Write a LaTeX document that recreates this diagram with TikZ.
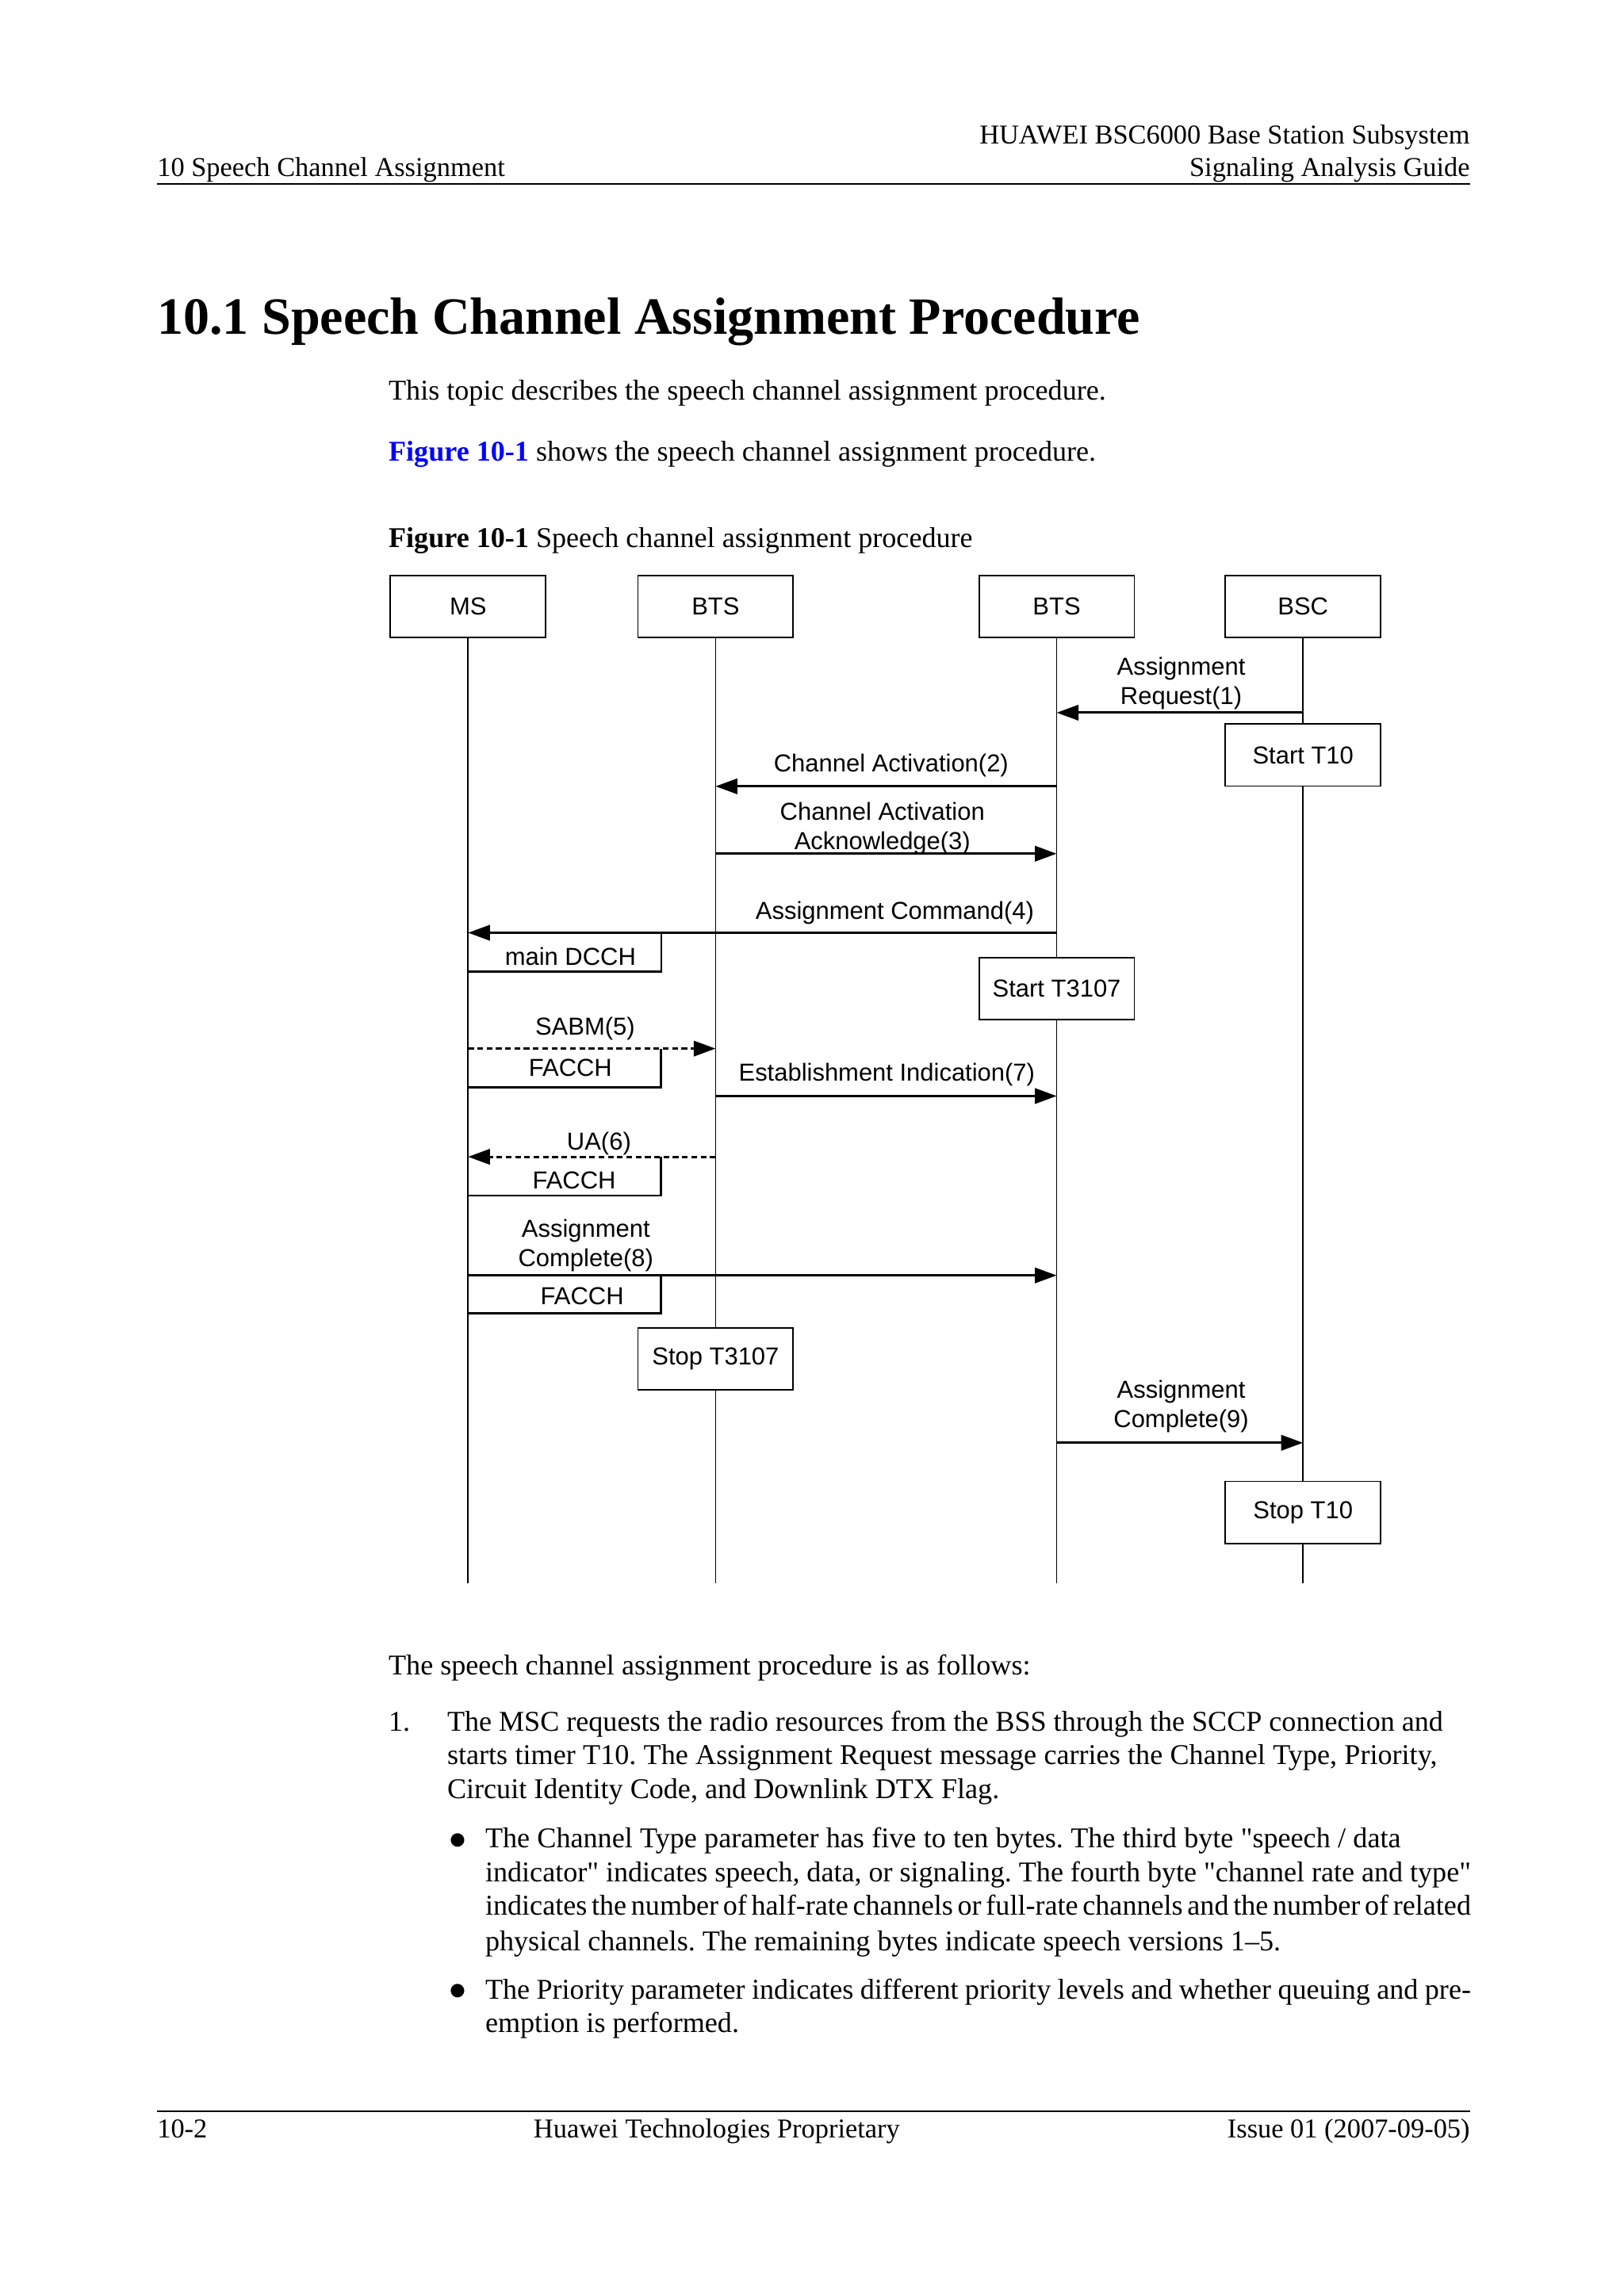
\documentclass[tikz,border=0pt]{standalone}
\usepackage{fontspec}
\setmainfont{Liberation Serif}[Ligatures=TeXOff]
\setsansfont{Liberation Sans}
\usetikzlibrary{arrows.meta}
\frenchspacing
\definecolor{linkblue}{RGB}{0,0,255}
\tikzstyle{entity}=[draw, line width=0.55pt, minimum width=56.9pt, minimum height=22.7pt, inner sep=0, font=\sffamily\fontsize{9}{10.8}\selectfont]
\tikzstyle{timer}=[entity, fill=white]
\tikzstyle{lifeline}=[line width=0.5pt]
\tikzstyle{message}=[line width=0.9pt, -{Triangle[length=8pt, width=5.6pt]}]
\tikzstyle{dotted message}=[message, dash pattern=on 2.1pt off 1.3pt]
\tikzstyle{channel}=[line width=0.8pt]
\tikzstyle{msg text}=[inner sep=0, align=center, font=\sffamily\fontsize{9}{10.8}\selectfont]
\tikzstyle{body}=[inner sep=0, anchor=base west, font=\fontsize{10.5}{12.6}\selectfont]
\tikzstyle{page text}=[inner sep=0, font=\fontsize{10}{12}\selectfont]

\begin{document}
\begin{tikzpicture}[x=0.5369pt, y=-0.5369pt]
  \fill[white] (0,0) rectangle (1108.8,1568);
  \begin{scope}[shift={(1,1)}]

  % header and footer of the page
  \node[page text, anchor=base east] (head_book) at (1003,97) {HUAWEI BSC6000 Base Station Subsystem};
  \node[page text, anchor=base west] (head_chapter) at (106,119.5) {10 Speech Channel Assignment};
  \node[page text, anchor=base east] (head_guide) at (1003,119.5) {Signaling Analysis Guide};
  \coordinate (head_left) at (106,124.5);
  \coordinate (head_right) at (1003,124.5);
  \draw[line width=0.6pt] (head_left) -- (head_right);
  \coordinate (foot_left) at (106,1441);
  \coordinate (foot_right) at (1003,1441);
  \draw[line width=0.6pt] (foot_left) -- (foot_right);
  \node[page text, anchor=base west] (foot_page) at (106,1459) {10-2};
  \node[page text, anchor=base west] (foot_owner) at (363,1459) {Huawei Technologies Proprietary};
  \node[page text, anchor=base east] (foot_issue) at (1003,1459) {Issue 01 (2007-09-05)};

  \node[inner sep=0, anchor=base west, font=\bfseries\fontsize{19.2}{22}\selectfont] (section) at (106,227)
    {10.1 Speech Channel Assignment Procedure};
  \node[body] (intro) at (264,272) {This topic describes the speech channel assignment procedure.};
  \node[body] (intro_ref) at (264,314) {\textcolor{linkblue}{\bfseries Figure 10-1} shows the speech channel assignment procedure.};
  \node[body] (caption) at (264,373) {\textbf{Figure 10-1} Speech channel assignment procedure};

  % entities and their lifelines
  \node[entity] (ms) at (318.6,413.2) {MS};
  \node[entity] (bts_a) at (487.6,413.2) {BTS};
  \node[entity] (bts_b) at (720.5,413.2) {BTS};
  \node[entity] (bsc) at (888.7,413.2) {BSC};
  \coordinate (bottom) at (0,1080);
  \foreach \n in {ms, bts_a, bts_b, bsc}
    \draw[lifeline] (\n.south) -- (\n |- bottom);

  % timers
  \node[timer] (start_t10) at (888.7,514.7) {Start T10};
  \node[timer] (start_t3107) at (720.5,674) {Start T3107};
  \node[timer] (stop_t3107) at (487.6,927) {Stop T3107};
  \node[timer] (stop_t10) at (888.7,1031.8) {Stop T10};

  % messages
  \coordinate (row_1) at (0,485.7);
  \coordinate (row_2) at (0,536);
  \coordinate (row_3) at (0,582);
  \coordinate (row_4) at (0,636);
  \coordinate (row_5) at (0,715.1);
  \coordinate (row_7) at (0,747.5);
  \coordinate (row_6) at (0,789);
  \coordinate (row_8) at (0,870);
  \coordinate (row_9) at (0,984.3);

  \draw[message] (bsc |- row_1) -- (bts_b |- row_1);
  \node[msg text] (req) at (805.5,465.7) {Assignment\\Request(1)};
  \draw[message] (bts_b |- row_2) -- (bts_a |- row_2);
  \node[msg text, anchor=base] (chan_act) at (607.5,526) {Channel Activation(2)};
  \draw[message] (bts_a |- row_3) -- (bts_b |- row_3);
  \node[msg text] (chan_ack) at (601.5,564.7) {Channel Activation\\Acknowledge(3)};
  \draw[message] (bts_b |- row_4) -- (ms |- row_4);
  \node[msg text, anchor=base] (cmd) at (610,627) {Assignment Command(4)};
  \draw[dotted message] (ms |- row_5) -- (bts_a |- row_5);
  \node[msg text, anchor=base] (sabm) at (398.5,706) {SABM(5)};
  \draw[message] (bts_a |- row_7) -- (bts_b |- row_7);
  \node[msg text, anchor=base] (est_ind) at (604.5,737) {Establishment Indication(7)};
  \draw[dotted message] (bts_a |- row_6) -- (ms |- row_6);
  \node[msg text, anchor=base] (ua) at (408,784.5) {UA(6)};
  \draw[message] (ms |- row_8) -- (bts_b |- row_8);
  \node[msg text] (complete_ms) at (399,849.7) {Assignment\\Complete(8)};
  \draw[message] (bts_b |- row_9) -- (bsc |- row_9);
  \node[msg text] (complete_bsc) at (805.5,959.7) {Assignment\\Complete(9)};

  % channels under the MS messages
  \coordinate (dcch) at (450.6,662.7);
  \draw[channel] (dcch |- row_4) -- (dcch) -- (ms |- dcch);
  \node[msg text, anchor=base] (dcch_text) at (388.5,658) {main DCCH};
  \coordinate (facch_a) at (450.3,741.6);
  \draw[channel] (facch_a |- row_5) -- (facch_a) -- (ms |- facch_a);
  \node[msg text, anchor=base] (facch_a_text) at (388.5,734) {FACCH};
  \coordinate (facch_b) at (450.3,815.5);
  \draw[channel] (facch_b |- row_6) -- (facch_b) -- (ms |- facch_b);
  \node[msg text, anchor=base] (facch_b_text) at (391,811) {FACCH};
  \coordinate (facch_c) at (450.3,896);
  \draw[channel] (facch_c |- row_8) -- (facch_c) -- (ms |- facch_c);
  \node[msg text, anchor=base] (facch_c_text) at (396.5,890) {FACCH};

  % procedure text
  \node[body] (steps) at (264,1143) {The speech channel assignment procedure is as follows:};
  \node[body] (step_1) at (264,1181) {1.};
  \node[body] (step_1_a) at (304,1181) {\makebox[365.1pt][s]{The MSC requests the radio resources from the BSS through the SCCP connection and}};
  \node[body] (step_1_b) at (304,1204) {\makebox[362.9pt][s]{starts timer T10. The Assignment Request message carries the Channel Type, Priority,}};
  \node[body] (step_1_c) at (304,1227) {Circuit Identity Code, and Downlink DTX Flag.};
  \node[body, font=\fontsize{11.5}{12}\selectfont] (dot_a) at (305,1262) {●};
  \node[body] (type_a) at (330,1261) {\makebox[335.6pt][s]{The Channel Type parameter has five to ten bytes. The third byte "speech / data}};
  \node[body] (type_b) at (330,1284) {\makebox[361.3pt][s]{indicator" indicates speech, data, or signaling. The fourth byte "channel rate and type"}};
  \node[body] (type_c) at (330,1307) {\spaceskip=0.25em plus 0.2em minus 0.15em\makebox[361.3pt][s]{indicates the number of half-rate channels or full-rate channels and the number of related}};
  \node[body] (type_d) at (330,1331) {physical channels. The remaining bytes indicate speech versions 1–5.};
  \node[body, font=\fontsize{11.5}{12}\selectfont] (dot_b) at (305,1365) {●};
  \node[body] (prio_a) at (330,1364) {\makebox[361.3pt][s]{The Priority parameter indicates different priority levels and whether queuing and pre-}};
  \node[body] (prio_b) at (330,1387) {emption is performed.};
  \end{scope}
\end{tikzpicture}
\end{document}
